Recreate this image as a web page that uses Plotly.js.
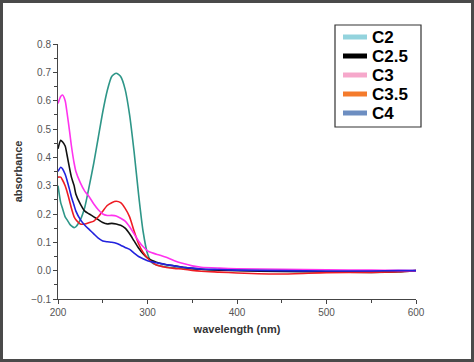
<!DOCTYPE html>
<html><head><meta charset="utf-8">
<script src="https://cdn.plot.ly/plotly-3.0.1.min.js"></script>
<style>
html,body{margin:0;padding:0;background:#fff;}
#frame{width:474px;height:362px;box-sizing:border-box;border:3px solid #4a4a4a;background:#fff;}
#chart{width:468px;height:356px;}
</style></head>
<body><div id="frame"><div id="chart"></div></div>
<script>
// wavelength (nm)
const wavelength = [200,203,205,208,210,213,215,218,220,225,230,235,240,245,250,255,260,265,270,275,280,285,290,295,300,305,310,320,330,340,350,360,380,400,450,500,550,580,600];
const C2   = [0.30,0.24,0.22,0.19,0.18,0.165,0.158,0.152,0.155,0.18,0.225,0.30,0.38,0.47,0.56,0.635,0.685,0.697,0.685,0.64,0.55,0.42,0.27,0.14,0.06,0.028,0.02,0.014,0.01,0.008,0.006,0.004,0.003,0.002,-0.001,-0.003,-0.004,-0.003,0.0];
const C25  = [0.43,0.46,0.455,0.44,0.41,0.36,0.33,0.30,0.27,0.235,0.21,0.20,0.19,0.18,0.17,0.165,0.167,0.165,0.16,0.15,0.13,0.105,0.08,0.06,0.045,0.036,0.03,0.022,0.017,0.012,0.008,0.005,0.002,0.0,-0.003,-0.004,-0.006,-0.004,0.0];
const C3   = [0.59,0.615,0.62,0.6,0.56,0.49,0.44,0.38,0.35,0.31,0.28,0.26,0.235,0.215,0.20,0.195,0.195,0.193,0.185,0.175,0.155,0.13,0.105,0.085,0.07,0.063,0.058,0.048,0.035,0.025,0.017,0.012,0.009,0.007,0.005,0.003,0.002,0.001,0.0];
const C35  = [0.33,0.33,0.32,0.30,0.28,0.245,0.22,0.19,0.18,0.165,0.165,0.17,0.175,0.19,0.21,0.23,0.24,0.245,0.24,0.22,0.19,0.14,0.095,0.065,0.045,0.03,0.02,0.012,0.008,0.005,0.001,-0.002,-0.005,-0.008,-0.012,-0.007,-0.006,-0.004,0.0];
const C4   = [0.35,0.365,0.36,0.34,0.32,0.285,0.26,0.23,0.21,0.18,0.16,0.145,0.13,0.115,0.105,0.102,0.10,0.097,0.09,0.082,0.075,0.062,0.05,0.042,0.035,0.031,0.028,0.022,0.017,0.012,0.009,0.006,0.004,0.002,0.0,-0.001,-0.001,0.0,0.0];

const names = ["C2","C2.5","C3","C3.5","C4"];
const lineColors = ["#2e9688","#111111","#ff33ee","#ee1c24","#2222dd"];
const legendColors = ["#93d3dd","#000000","#f6a8cb","#f47b2c","#6d8ec1"];
const series = [C2, C25, C3, C35, C4];

const traces = series.map((y,i)=>({
  x: wavelength, y: y, type:"scatter", mode:"lines", name:names[i],
  line:{color:lineColors[i], width:1.6, shape:"spline", smoothing:0.6},
  showlegend:false
}));
const order = [0,1,3,2,4];
const data = order.map(i=>traces[i]);

// legend drawn manually (pixel -> paper conversion)
const plotL = 58, plotR = 416, plotT = 44, plotB = 299;
const px = v => (v - plotL) / (plotR - plotL);
const py = v => (plotB - v) / (plotB - plotT);
const shapes = [{type:"rect", xref:"paper", yref:"paper", x0:px(335), x1:px(421), y0:py(127), y1:py(25),
  line:{color:"#333", width:1.2}, fillcolor:"rgba(0,0,0,0)"}];
const annotations = [];
const itemY = [37, 56, 75, 94, 113];
names.forEach((n,i)=>{
  shapes.push({type:"line", xref:"paper", yref:"paper", x0:px(343), x1:px(367), y0:py(itemY[i]), y1:py(itemY[i]),
    line:{color:legendColors[i], width:5}});
  annotations.push({xref:"paper", yref:"paper", x:px(371), y:py(itemY[i]), xanchor:"left", yanchor:"middle",
    borderpad:0,
    text:"<b>"+n+"</b>", showarrow:false, font:{family:"Liberation Sans, Arial", size:17, color:"#000"}});
});

const layout = {
  width:468, height:356,
  margin:{l:55, r:55, t:41, b:60},
  paper_bgcolor:"#fff", plot_bgcolor:"#fff",
  showlegend:false,
  font:{family:"Liberation Sans, Arial", size:10, color:"#555"},
  xaxis:{range:[200,600], tickvals:[200,300,400,500,600], ticks:"outside", ticklen:4, tickwidth:1, tickcolor:"#444",
    minor:{tickvals:[250,350,450,550], ticks:"outside", ticklen:3, tickcolor:"#444"},
    showline:true, linecolor:"#444", linewidth:1, showgrid:false, zeroline:false,
    tickfont:{size:10, color:"#555"},
    title:{text:"<b>wavelength (nm)</b>", font:{size:11, color:"#333"}, standoff:8}},
  yaxis:{range:[-0.1,0.8], tickvals:[-0.1,0,0.1,0.2,0.3,0.4,0.5,0.6,0.7,0.8], tickformat:".1f",
    ticks:"outside", ticklen:4, tickwidth:1, tickcolor:"#444",
    minor:{dtick:0.05, ticks:"outside", ticklen:3, tickcolor:"#444"},
    showline:true, linecolor:"#444", linewidth:1, showgrid:false, zeroline:false,
    tickfont:{size:10, color:"#555"},
    title:{text:"<b>absorbance</b>", font:{size:11, color:"#333"}, standoff:6}},
  shapes:shapes, annotations:annotations
};
Plotly.newPlot("chart", data, layout, {staticPlot:true, displayModeBar:false});
</script></body></html>
